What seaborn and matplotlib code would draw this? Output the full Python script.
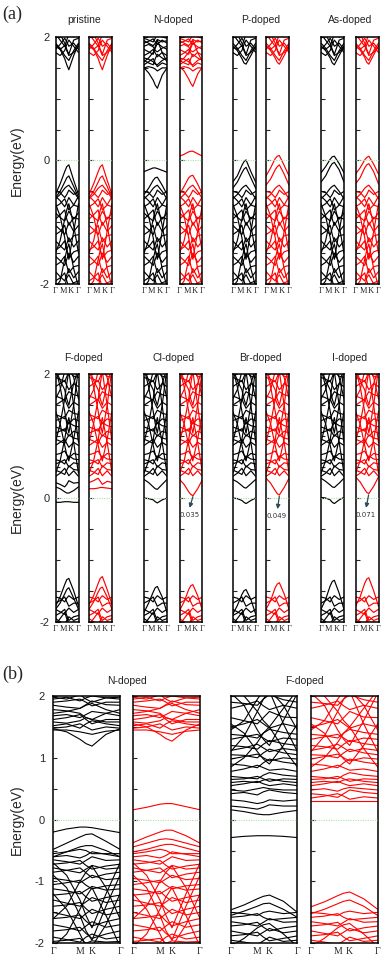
"""
Band structures of doped sheets, spin up (black) and spin down (red).
Each band is given by its energy at the seven k-points of K_PATH.
"""

import pandas as pd
import matplotlib
matplotlib.use("Agg")
import matplotlib.pyplot as plt
import seaborn as sns

# k-path: Γ, half Γ-M, M, half M-K, K, half K-Γ, Γ
K_PATH = [0.0, 0.2, 0.4, 0.49, 0.58, 0.79, 1.0]
K_TICKS = [0.0, 0.4, 0.58, 1.0]
K_TICKS_NARROW = [0.0, 0.34, 0.68, 1.0]   # label spots in the narrow (a) panels
K_LABELS = ["Γ", "M", "K", "Γ"]

# ---------------- (a) first row: pristine, N, P, As ----------------
CB_UPPER_A = [
    [1.80, 1.88, 1.98, 1.92, 1.85, 1.90, 1.80],
    [1.75, 1.70, 1.78, 1.88, 1.95, 1.85, 1.75],
    [1.90, 1.82, 1.70, 1.66, 1.62, 1.78, 1.90],
    [1.98, 2.05, 1.90, 1.80, 1.72, 1.95, 1.98],
    [2.05, 1.95, 1.85, 1.95, 2.05, 2.00, 2.05],
    [1.85, 1.80, 1.86, 1.78, 1.70, 1.75, 1.85],
]
CB_N_A = [
    [1.55, 1.60, 1.65, 1.58, 1.52, 1.58, 1.55],
    [1.62, 1.58, 1.55, 1.65, 1.72, 1.66, 1.62],
    [1.70, 1.74, 1.80, 1.74, 1.68, 1.75, 1.70],
    [1.80, 1.76, 1.72, 1.82, 1.90, 1.84, 1.80],
    [1.90, 1.93, 1.97, 1.92, 1.88, 1.95, 1.90],
    [1.98, 1.95, 1.92, 1.98, 2.05, 2.00, 1.98],
    [1.50, 1.52, 1.50, 1.48, 1.45, 1.50, 1.50],
    [1.60, 1.66, 1.75, 1.85, 1.95, 1.75, 1.60],
    [1.66, 1.64, 1.60, 1.56, 1.55, 1.62, 1.66],
    [1.85, 1.88, 1.84, 1.78, 1.76, 1.82, 1.85],
    [1.94, 1.90, 1.86, 1.90, 1.96, 1.92, 1.94],
]
VB_DENSE_A = [
    [-0.50, -0.52, -0.60, -0.55, -0.48, -0.55, -0.50],
    [-0.62, -0.55, -0.45, -0.42, -0.40, -0.50, -0.62],
    [-0.58, -0.65, -0.75, -0.68, -0.60, -0.72, -0.58],
    [-0.75, -0.70, -0.62, -0.70, -0.80, -0.72, -0.75],
    [-0.85, -0.92, -0.98, -0.90, -0.82, -0.95, -0.85],
    [-0.95, -0.88, -0.80, -0.95, -1.05, -0.92, -0.95],
    [-1.05, -1.12, -1.20, -1.10, -1.00, -1.15, -1.05],
    [-1.20, -1.15, -1.05, -1.20, -1.32, -1.22, -1.20],
    [-1.30, -1.38, -1.45, -1.35, -1.25, -1.40, -1.30],
    [-1.45, -1.40, -1.30, -1.45, -1.58, -1.48, -1.45],
    [-1.55, -1.62, -1.70, -1.60, -1.50, -1.65, -1.55],
    [-1.70, -1.65, -1.55, -1.70, -1.82, -1.72, -1.70],
    [-1.80, -1.88, -1.95, -1.85, -1.75, -1.90, -1.80],
    [-1.95, -1.90, -1.82, -1.95, -2.05, -1.98, -1.95],
    [-2.05, -1.95, -1.60, -1.45, -1.35, -1.75, -2.05],
    [-0.70, -0.90, -1.25, -1.45, -1.60, -1.15, -0.70],
    [-1.50, -1.30, -0.95, -0.80, -0.70, -1.05, -1.50],
    [-2.10, -2.00, -2.05, -1.90, -1.85, -2.00, -2.10],
]

PRISTINE_EDGE = [
    [1.88, 1.80, 1.65, 1.55, 1.47, 1.70, 1.88],
    [-0.55, -0.38, -0.18, -0.10, -0.07, -0.32, -0.55],
    [-0.60, -0.50, -0.35, -0.28, -0.25, -0.42, -0.60],
]
N_EDGE_UP = [
    [1.50, 1.42, 1.30, 1.22, 1.17, 1.38, 1.50],
    [-0.18, -0.15, -0.12, -0.12, -0.13, -0.16, -0.19],
    [-0.55, -0.45, -0.32, -0.28, -0.27, -0.40, -0.55],
]
N_EDGE_DN = [
    [1.52, 1.45, 1.32, 1.25, 1.20, 1.40, 1.52],
    [0.07, 0.10, 0.14, 0.15, 0.15, 0.11, 0.07],
    [-0.55, -0.42, -0.28, -0.25, -0.24, -0.38, -0.55],
]
P_EDGE_UP = [
    [1.85, 1.78, 1.65, 1.58, 1.56, 1.70, 1.85],
    [-0.35, -0.25, -0.08, -0.02, 0.01, -0.18, -0.35],
    [-0.45, -0.35, -0.20, -0.14, -0.11, -0.28, -0.45],
]
P_EDGE_DN = [
    [1.86, 1.78, 1.66, 1.59, 1.56, 1.70, 1.86],
    [-0.25, -0.12, 0.03, 0.07, 0.08, -0.08, -0.25],
    [-0.40, -0.30, -0.15, -0.10, -0.07, -0.22, -0.40],
]
AS_EDGE_UP = [
    [1.85, 1.78, 1.66, 1.58, 1.55, 1.70, 1.85],
    [-0.20, -0.10, 0.02, 0.06, 0.07, -0.05, -0.20],
    [-0.35, -0.25, -0.10, -0.05, -0.03, -0.15, -0.35],
]
AS_EDGE_DN = [
    [1.86, 1.79, 1.67, 1.59, 1.56, 1.71, 1.86],
    [-0.22, -0.12, 0.01, 0.05, 0.07, -0.06, -0.22],
    [-0.38, -0.28, -0.12, -0.07, -0.05, -0.18, -0.38],
]

# ---------------- (a) second row: F, Cl, Br, I ----------------
CB_DENSE_B = [
    [0.35, 0.40, 0.48, 0.42, 0.36, 0.44, 0.35],
    [0.45, 0.42, 0.38, 0.45, 0.52, 0.46, 0.45],
    [0.55, 0.58, 0.62, 0.56, 0.50, 0.57, 0.55],
    [0.62, 0.60, 0.55, 0.62, 0.68, 0.63, 0.62],
    [0.70, 0.72, 0.76, 0.70, 0.65, 0.72, 0.70],
    [0.85, 0.90, 0.95, 0.88, 0.82, 0.90, 0.85],
    [0.95, 0.92, 0.88, 0.96, 1.02, 0.97, 0.95],
    [1.05, 1.08, 1.12, 1.05, 1.00, 1.08, 1.05],
    [1.15, 1.12, 1.08, 1.16, 1.22, 1.17, 1.15],
    [1.25, 1.28, 1.32, 1.26, 1.20, 1.28, 1.25],
    [1.35, 1.32, 1.28, 1.36, 1.42, 1.37, 1.35],
    [1.50, 1.55, 1.60, 1.52, 1.45, 1.55, 1.50],
    [1.65, 1.62, 1.58, 1.66, 1.72, 1.67, 1.65],
    [1.80, 1.85, 1.90, 1.82, 1.75, 1.85, 1.80],
    [1.95, 1.92, 1.88, 1.96, 2.05, 1.97, 1.95],
    [0.40, 0.60, 0.95, 1.15, 1.30, 0.90, 0.40],
    [1.40, 1.20, 0.85, 0.70, 0.60, 0.95, 1.40],
    [2.10, 1.80, 1.40, 1.20, 1.05, 1.50, 2.10],
    [0.90, 1.20, 1.60, 1.85, 2.05, 1.50, 0.90],
    [2.10, 1.90, 1.75, 1.60, 1.50, 1.85, 2.10],
    [1.60, 1.75, 2.05, 2.10, 2.10, 1.95, 1.60],
]
VB_LOW_B = [
    [-1.60, -1.62, -1.68, -1.62, -1.58, -1.64, -1.60],
    [-1.70, -1.66, -1.60, -1.68, -1.75, -1.70, -1.70],
    [-1.80, -1.84, -1.88, -1.82, -1.78, -1.85, -1.80],
    [-1.90, -1.86, -1.80, -1.90, -1.98, -1.92, -1.90],
    [-2.05, -1.95, -1.85, -1.95, -2.05, -2.00, -2.05],
    [-1.95, -2.00, -2.05, -1.98, -1.92, -1.98, -1.95],
]

F_EDGE_UP = [
    [0.18, 0.15, 0.10, 0.08, 0.08, 0.12, 0.18],
    [0.25, 0.22, 0.18, 0.22, 0.28, 0.24, 0.25],
    [-0.07, -0.07, -0.06, -0.06, -0.06, -0.07, -0.07],
    [-1.75, -1.60, -1.40, -1.32, -1.30, -1.50, -1.75],
    [-1.80, -1.70, -1.55, -1.48, -1.45, -1.62, -1.80],
]
F_EDGE_DN = [
    [0.15, 0.15, 0.16, 0.17, 0.17, 0.16, 0.15],
    [0.25, 0.28, 0.32, 0.27, 0.22, 0.27, 0.25],
    [-1.72, -1.58, -1.38, -1.30, -1.27, -1.48, -1.72],
    [-1.80, -1.68, -1.52, -1.46, -1.44, -1.60, -1.80],
]
CL_EDGE_UP = [
    [0.00, -0.01, -0.03, -0.06, -0.08, -0.03, 0.00],
    [0.30, 0.25, 0.18, 0.15, 0.14, 0.22, 0.30],
    [-1.85, -1.70, -1.52, -1.45, -1.43, -1.60, -1.85],
]
CL_EDGE_DN = [
    [0.30, 0.22, 0.10, 0.06, 0.035, 0.15, 0.30],
    [-1.82, -1.68, -1.48, -1.42, -1.40, -1.58, -1.82],
]
BR_EDGE_UP = [
    [0.00, -0.01, -0.04, -0.07, -0.09, -0.04, 0.00],
    [0.30, 0.26, 0.20, 0.17, 0.16, 0.23, 0.30],
    [-1.88, -1.74, -1.56, -1.50, -1.48, -1.64, -1.88],
]
BR_EDGE_DN = [
    [0.32, 0.24, 0.12, 0.07, 0.049, 0.17, 0.32],
    [-1.80, -1.66, -1.45, -1.39, -1.37, -1.55, -1.80],
]
I_EDGE_UP = [
    [0.01, 0.00, -0.03, -0.07, -0.09, -0.03, 0.01],
    [0.32, 0.27, 0.21, 0.18, 0.17, 0.24, 0.32],
    [-1.80, -1.64, -1.42, -1.35, -1.33, -1.54, -1.80],
]
I_EDGE_DN = [
    [0.34, 0.26, 0.14, 0.09, 0.071, 0.19, 0.34],
    [-1.75, -1.60, -1.38, -1.31, -1.29, -1.50, -1.75],
]

# ---------------- (b) N-doped and F-doped, larger ----------------
N_B_CB = [
    [1.48, 1.50, 1.55, 1.50, 1.45, 1.50, 1.48],
    [1.52, 1.55, 1.48, 1.55, 1.60, 1.55, 1.52],
    [1.58, 1.56, 1.60, 1.65, 1.62, 1.58, 1.58],
    [1.62, 1.65, 1.70, 1.62, 1.55, 1.62, 1.62],
    [1.68, 1.70, 1.65, 1.70, 1.75, 1.72, 1.68],
    [1.72, 1.75, 1.80, 1.85, 1.88, 1.78, 1.72],
    [1.78, 1.76, 1.72, 1.65, 1.62, 1.72, 1.78],
    [1.85, 1.82, 1.80, 1.86, 1.92, 1.86, 1.85],
    [1.90, 1.92, 1.95, 1.90, 1.84, 1.90, 1.90],
    [1.95, 1.98, 1.92, 1.97, 2.00, 1.97, 1.95],
    [1.98, 1.95, 2.02, 1.95, 1.90, 1.97, 1.98],
    [1.45, 1.45, 1.42, 1.40, 1.38, 1.43, 1.45],
]
N_B_VB = [
    [-0.55, -0.52, -0.48, -0.50, -0.55, -0.55, -0.55],
    [-0.60, -0.58, -0.62, -0.58, -0.52, -0.56, -0.60],
    [-0.65, -0.68, -0.72, -0.66, -0.60, -0.66, -0.65],
    [-0.72, -0.70, -0.66, -0.74, -0.80, -0.75, -0.72],
    [-0.78, -0.82, -0.86, -0.80, -0.74, -0.80, -0.78],
    [-0.85, -0.82, -0.78, -0.86, -0.94, -0.88, -0.85],
    [-0.95, -0.98, -1.02, -0.96, -0.90, -0.97, -0.95],
    [-1.05, -1.02, -0.98, -1.06, -1.12, -1.07, -1.05],
    [-1.12, -1.15, -1.20, -1.14, -1.08, -1.14, -1.12],
    [-1.22, -1.20, -1.16, -1.25, -1.32, -1.26, -1.22],
    [-1.30, -1.35, -1.40, -1.33, -1.26, -1.34, -1.30],
    [-1.40, -1.38, -1.34, -1.44, -1.52, -1.45, -1.40],
    [-1.50, -1.55, -1.60, -1.52, -1.45, -1.54, -1.50],
    [-1.60, -1.58, -1.54, -1.64, -1.72, -1.65, -1.60],
    [-1.70, -1.74, -1.80, -1.72, -1.65, -1.74, -1.70],
    [-1.80, -1.78, -1.74, -1.84, -1.92, -1.85, -1.80],
    [-1.90, -1.94, -1.98, -1.90, -1.85, -1.93, -1.90],
    [-1.97, -1.95, -1.92, -2.00, -1.96, -1.98, -1.97],
    [-0.70, -0.90, -1.30, -1.55, -1.75, -1.20, -0.70],
    [-1.60, -1.40, -1.00, -0.85, -0.75, -1.10, -1.60],
    [-2.05, -1.85, -1.45, -1.25, -1.10, -1.55, -2.05],
    [-1.20, -1.45, -1.85, -2.05, -2.05, -1.70, -1.20],
    [-0.90, -1.10, -1.55, -1.80, -1.95, -1.40, -0.90],
]
N_B_EDGE_UP = [
    [1.47, 1.42, 1.30, 1.23, 1.19, 1.38, 1.47],
    [-0.20, -0.15, -0.12, -0.12, -0.13, -0.17, -0.21],
    [-0.48, -0.38, -0.28, -0.24, -0.23, -0.35, -0.48],
    [-0.60, -0.52, -0.44, -0.42, -0.42, -0.50, -0.60],
]
N_B_EDGE_DN = [
    [1.55, 1.50, 1.38, 1.31, 1.27, 1.45, 1.55],
    [0.16, 0.20, 0.25, 0.26, 0.26, 0.21, 0.16],
    [-0.37, -0.28, -0.20, -0.17, -0.17, -0.26, -0.38],
    [-0.44, -0.38, -0.32, -0.31, -0.32, -0.38, -0.44],
    [-0.52, -0.48, -0.42, -0.40, -0.40, -0.46, -0.52],
]

F_B_CB = [
    [0.55, 0.58, 0.62, 0.58, 0.55, 0.58, 0.55],
    [0.60, 0.62, 0.60, 0.64, 0.66, 0.62, 0.60],
    [0.65, 0.66, 0.70, 0.66, 0.62, 0.66, 0.65],
    [0.70, 0.68, 0.66, 0.72, 0.76, 0.72, 0.70],
    [0.78, 0.82, 0.88, 0.84, 0.80, 0.82, 0.78],
    [0.90, 0.88, 0.84, 0.92, 0.98, 0.93, 0.90],
    [0.98, 1.02, 1.06, 1.00, 0.95, 1.00, 0.98],
    [1.05, 1.04, 1.00, 1.08, 1.14, 1.08, 1.05],
    [1.12, 1.16, 1.22, 1.16, 1.10, 1.15, 1.12],
    [1.20, 1.18, 1.14, 1.22, 1.28, 1.23, 1.20],
    [1.30, 1.34, 1.38, 1.32, 1.26, 1.32, 1.30],
    [1.38, 1.36, 1.32, 1.40, 1.46, 1.41, 1.38],
    [1.50, 1.55, 1.62, 1.55, 1.48, 1.55, 1.50],
    [1.65, 1.60, 1.55, 1.65, 1.75, 1.66, 1.65],
    [1.80, 1.85, 1.92, 1.84, 1.78, 1.85, 1.80],
    [1.90, 1.88, 1.85, 1.95, 2.02, 1.94, 1.90],
    [2.05, 1.85, 1.45, 1.30, 1.20, 1.60, 2.05],
    [1.10, 1.35, 1.75, 1.95, 2.08, 1.55, 1.10],
    [1.45, 1.60, 1.95, 2.08, 2.10, 1.85, 1.45],
    [2.10, 2.00, 1.75, 1.60, 1.50, 1.80, 2.10],
    [0.85, 1.00, 1.25, 1.40, 1.50, 1.15, 0.85],
    [1.55, 1.40, 1.10, 0.98, 0.90, 1.20, 1.55],
]
F_B_VB = [
    [-1.50, -1.52, -1.55, -1.50, -1.48, -1.52, -1.50],
    [-1.58, -1.56, -1.52, -1.58, -1.62, -1.60, -1.58],
    [-1.65, -1.68, -1.72, -1.66, -1.60, -1.66, -1.65],
    [-1.72, -1.70, -1.66, -1.74, -1.80, -1.75, -1.72],
    [-1.80, -1.84, -1.88, -1.82, -1.76, -1.83, -1.80],
    [-1.88, -1.86, -1.82, -1.90, -1.96, -1.92, -1.88],
    [-1.95, -1.98, -2.02, -1.96, -1.90, -1.97, -1.95],
    [-2.05, -1.92, -1.75, -1.70, -1.68, -1.85, -2.05],
]
F_B_EDGE_UP = [
    [0.16, 0.13, 0.09, 0.08, 0.08, 0.12, 0.15],
    [0.22, 0.20, 0.17, 0.20, 0.24, 0.22, 0.22],
    [0.32, 0.30, 0.26, 0.28, 0.32, 0.30, 0.32],
    [0.42, 0.44, 0.40, 0.45, 0.48, 0.44, 0.42],
    [0.48, 0.46, 0.50, 0.52, 0.50, 0.48, 0.48],
    [-0.29, -0.27, -0.26, -0.26, -0.26, -0.27, -0.29],
    [-1.46, -1.38, -1.28, -1.24, -1.22, -1.32, -1.50],
    [-1.55, -1.48, -1.40, -1.36, -1.35, -1.45, -1.58],
]
F_B_EDGE_DN = [
    [0.30, 0.30, 0.30, 0.30, 0.30, 0.30, 0.30],
    [0.35, 0.38, 0.42, 0.38, 0.33, 0.37, 0.35],
    [0.42, 0.40, 0.36, 0.42, 0.48, 0.44, 0.42],
    [0.48, 0.50, 0.46, 0.50, 0.52, 0.50, 0.48],
    [-1.41, -1.33, -1.23, -1.19, -1.17, -1.28, -1.45],
    [-1.52, -1.45, -1.36, -1.32, -1.30, -1.40, -1.55],
]

# gap annotations on the spin-down panels: (text, text pos, arrow tail)
GAP_NOTES = {
    "Cl-doped": ("0.035", (0.42, -0.27), (0.58, 0.02)),
    "Br-doped": ("0.049", (0.48, -0.29), (0.58, 0.03)),
    "I-doped": ("0.071", (0.44, -0.27), (0.57, 0.05)),
}

ROW1 = [
    ("pristine", CB_UPPER_A + VB_DENSE_A + PRISTINE_EDGE, CB_UPPER_A + VB_DENSE_A + PRISTINE_EDGE),
    ("N-doped", CB_N_A + VB_DENSE_A + N_EDGE_UP, CB_N_A + VB_DENSE_A + N_EDGE_DN),
    ("P-doped", CB_UPPER_A + VB_DENSE_A + P_EDGE_UP, CB_UPPER_A + VB_DENSE_A + P_EDGE_DN),
    ("As-doped", CB_UPPER_A + VB_DENSE_A + AS_EDGE_UP, CB_UPPER_A + VB_DENSE_A + AS_EDGE_DN),
]
ROW2 = [
    ("F-doped", CB_DENSE_B + VB_LOW_B + F_EDGE_UP, CB_DENSE_B + VB_LOW_B + F_EDGE_DN),
    ("Cl-doped", CB_DENSE_B + VB_LOW_B + CL_EDGE_UP, CB_DENSE_B + VB_LOW_B + CL_EDGE_DN),
    ("Br-doped", CB_DENSE_B + VB_LOW_B + BR_EDGE_UP, CB_DENSE_B + VB_LOW_B + BR_EDGE_DN),
    ("I-doped", CB_DENSE_B + VB_LOW_B + I_EDGE_UP, CB_DENSE_B + VB_LOW_B + I_EDGE_DN),
]
ROW_B = [
    ("N-doped", N_B_CB + N_B_VB + N_B_EDGE_UP, N_B_CB + N_B_VB + N_B_EDGE_DN),
    ("F-doped", F_B_CB + F_B_VB + F_B_EDGE_UP, F_B_CB + F_B_VB + F_B_EDGE_DN),
]

sns.set_style("white")
plt.rcParams["font.family"] = ["Liberation Sans", "DejaVu Sans"]
plt.rcParams["axes.unicode_minus"] = False

W, H = 390, 963
fig = plt.figure(figsize=(W / 100, H / 100), dpi=100)


def px_axes(x0, y0, x1, y1):
    return fig.add_axes([x0 / W, 1 - y1 / H, (x1 - x0) / W, (y1 - y0) / H])


def draw_panel(ax, bands, color, ticks, klab_size, show_y, lw):
    rows = [(k, e, i) for i, band in enumerate(bands) for k, e in zip(K_PATH, band)]
    df = pd.DataFrame(rows, columns=["k", "E", "band"])
    sns.lineplot(data=df, x="k", y="E", units="band", estimator=None, sort=False,
                 color=color, lw=lw, ax=ax, legend=False)
    ax.axhline(0, color="#a6e6a0", lw=0.8, ls=(0, (1, 1.2)), zorder=3)
    ax.set_xlim(0, 1)
    ax.set_ylim(-2, 2)
    ax.set_xlabel("")
    ax.set_ylabel("")
    ax.set_xticks(ticks)
    ax.set_xticklabels(K_LABELS, fontsize=klab_size, family="Liberation Serif")
    ax.tick_params(axis="x", length=0, pad=2.5)
    ax.set_yticks([-2, -1, 0, 1, 2])
    ax.set_yticks([-1.5, -0.5, 0.5, 1.5], minor=True)
    ax.tick_params(axis="y", which="both", direction="in", left=True, right=False,
                   length=2.6, width=0.8, labelsize=8, pad=4)
    if show_y:
        ax.set_yticklabels(["-2", "", "0", "", "2"])
    else:
        ax.set_yticklabels([])
    for sp in ax.spines.values():
        sp.set_linewidth(1.1)
        sp.set_color("black")


# ---- (a) ----
XA = [(55.5, 89.0), (144.0, 179.5), (232.7, 266.0), (321.0, 355.5)]
WA = 23.0
for row, (y0, y1, ty) in zip([ROW1, ROW2], [(37, 284, 20), (374.3, 621.7, 357.7)]):
    for (xb, xr), (name, up, dn) in zip(XA, row):
        ax_b = px_axes(xb, y0, xb + WA, y1)
        draw_panel(ax_b, up, "black", K_TICKS_NARROW, 6, xb == XA[0][0], 0.85)
        ax_r = px_axes(xr, y0, xr + WA, y1)
        draw_panel(ax_r, dn, "#ff0000", K_TICKS_NARROW, 6, False, 0.85)
        fig.text((xb + xr + WA) / 2 / W, 1 - ty / H, name, ha="center", va="center",
                 fontsize=7.5, color="#222222")
        if name in GAP_NOTES:
            txt, pos, tail = GAP_NOTES[name]
            ax_r.annotate("", xy=(pos[0] + 0.02, pos[1] + 0.11), xytext=tail,
                          arrowprops=dict(arrowstyle="-|>", color="#2f4a55", lw=0.9,
                                          mutation_scale=6, shrinkA=0, shrinkB=0))
            ax_r.text(pos[0], pos[1], txt, ha="center", va="center", fontsize=5,
                      color="#333333", family="DejaVu Sans")
    fig.text(17 / W, 1 - (y0 + y1) / 2 / H, "Energy(eV)", rotation=90, ha="center",
             va="center", fontsize=10)

# ---- (b) ----
XB = [(53.3, 133.3), (230.7, 311.0)]
WB = 66.7
for (xb, xr), (name, up, dn) in zip(XB, ROW_B):
    ax_b = px_axes(xb, 696, xb + WB, 943.3)
    draw_panel(ax_b, up, "black", K_TICKS, 7, xb == XB[0][0], 0.8)
    ax_r = px_axes(xr, 696, xr + WB, 943.3)
    draw_panel(ax_r, dn, "#ff0000", K_TICKS, 7, False, 0.8)
    if xb == XB[0][0]:
        ax_b.set_yticklabels(["-2", "-1", "0", "1", "2"])
        ax_b.tick_params(axis="y", pad=6)
    fig.text((xb + xr + WB) / 2 / W, 1 - 680.7 / H, name, ha="center", va="center",
             fontsize=7.5, color="#222222")
fig.text(17 / W, 1 - 820 / H, "Energy(eV)", rotation=90, ha="center", va="center",
         fontsize=10)

fig.text(2 / W, 1 - 14 / H, "(a)", ha="left", va="center", fontsize=13,
         family="Liberation Serif")
fig.text(2 / W, 1 - 674 / H, "(b)", ha="left", va="center", fontsize=13,
         family="Liberation Serif")

fig.savefig("out.png", dpi=100)
